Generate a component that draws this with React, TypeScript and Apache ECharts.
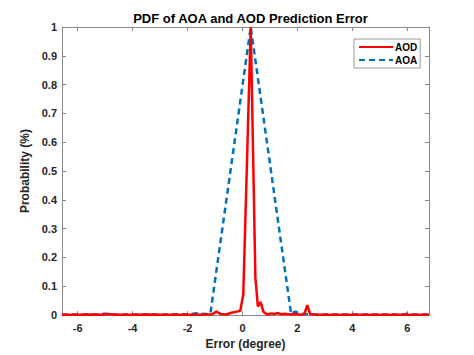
import React, { useEffect, useRef } from "react";
import * as echarts from "echarts";

const titleText = "PDF of AOA and AOD Prediction Error";
const xName = "Error (degree)";
const yName = "Probability (%)";
const xTicks = [-6, -4, -2, 0, 2, 4, 6];
const xMin = -6.57;
const xMax = 6.79;

const aodX = [-6.57, -6.0, -5.5, -5.1, -4.9, -4.6, -4.0, -3.5, -3.0, -2.5, -2.0, -1.5, -1.1, -0.95, -0.8, -0.6, -0.4, -0.2, -0.08, 0.03, 0.3, 0.47, 0.56, 0.66, 0.76, 0.9, 1.05, 1.15, 1.3, 1.4, 1.55, 1.7, 1.9, 2.1, 2.25, 2.36, 2.46, 2.6, 3.0, 4.0, 5.0, 6.0, 6.79];
const aodY = [0.001, 0.001, 0.002, 0.001, 0.004, 0.001, 0.001, 0.002, 0.001, 0.001, 0.001, 0.002, 0.003, 0.012, 0.004, 0.002, 0.008, 0.012, 0.015, 0.072, 1.0, 0.13, 0.03, 0.045, 0.012, 0.002, 0.006, 0.004, 0.007, 0.003, 0.005, 0.002, 0.004, 0.001, 0.003, 0.035, 0.004, 0.002, 0.001, 0.001, 0.001, 0.001, 0.001];

const aoaX = [-6.57, -5.3, -5.0, -4.7, -3.0, -1.9, -1.62, -1.4, -1.17, 0.3, 1.77, 1.92, 2.1, 2.5, 5.8, 6.0, 6.2, 6.79];
const aoaY = [0.002, 0.002, 0.005, 0.002, 0.002, 0.003, 0.007, 0.004, 0.004, 1.0, 0.004, 0.012, 0.005, 0.002, 0.002, 0.005, 0.002, 0.002];

const font = "'Liberation Sans', Arial, Helvetica, sans-serif";
const axisGray = "#8a8a8a";
const textDark = "#262626";

export default function App() {
  const ref = useRef<HTMLDivElement>(null);
  useEffect(() => {
    if (!ref.current) return;
    const chart = echarts.init(ref.current, null, { renderer: "svg" });
    const aodData = aodX.map((x, i) => [x, aodY[i]]);
    const aoaData = aoaX.map((x, i) => [x, aoaY[i]]);
    chart.setOption({
      animation: false,
      backgroundColor: "#fff",
      textStyle: { fontFamily: font },
      title: {
        text: titleText,
        left: 245.5,
        textAlign: "center",
        top: 7,
        textStyle: { fontFamily: font, fontSize: 13, fontWeight: "bold", color: "#000" },
      },
      grid: { left: 62, top: 27, right: 45, bottom: 39 },
      legend: {
        left: 354,
        top: 39,
        orient: "vertical",
        backgroundColor: "#fff",
        borderColor: "#999",
        borderWidth: 1,
        borderRadius: 0,
        padding: [3, 3, 3, 4],
        itemGap: 3,
        itemWidth: 34,
        itemHeight: 8,
        itemStyle: { opacity: 0 },
        textStyle: { fontFamily: font, fontSize: 10, fontWeight: "bold", color: "#000", padding: [0, 0, 0, -3] },
        data: ["AOD", "AOA"],
      },
      xAxis: [
        {
          type: "value",
          min: xMin,
          max: xMax,
          name: xName,
          nameLocation: "middle",
          nameGap: 22,
          nameTextStyle: { fontFamily: font, fontSize: 12, fontWeight: "bold", color: textDark },
          axisLine: { show: true, onZero: false, lineStyle: { color: axisGray, width: 1 } },
          axisTick: { show: true, inside: true, length: 4, customValues: xTicks, lineStyle: { color: axisGray } },
          axisLabel: {
            show: true,
            margin: 7,
            customValues: xTicks,
            fontFamily: font,
            fontSize: 11,
            fontWeight: "bold",
            color: textDark,
          },
          splitLine: { show: false },
        },
        {
          type: "value",
          position: "top",
          min: xMin,
          max: xMax,
          axisLine: { show: true, onZero: false, lineStyle: { color: axisGray, width: 1 } },
          axisTick: { show: true, inside: true, length: 4, customValues: xTicks, lineStyle: { color: axisGray } },
          axisLabel: { show: false },
          splitLine: { show: false },
        },
      ],
      yAxis: [
        {
          type: "value",
          min: 0,
          max: 1,
          interval: 0.1,
          name: yName,
          nameLocation: "middle",
          nameGap: 25,
          nameTextStyle: { fontFamily: font, fontSize: 12, fontWeight: "bold", color: textDark },
          axisLine: { show: true, onZero: false, lineStyle: { color: axisGray, width: 1 } },
          axisTick: { show: true, inside: true, length: 4, lineStyle: { color: axisGray } },
          axisLabel: {
            margin: 5,
            fontFamily: font,
            fontSize: 11,
            fontWeight: "bold",
            color: textDark,
            formatter: (v: number) => String(Math.round(v * 10) / 10),
          },
          splitLine: { show: false },
        },
        {
          type: "value",
          position: "right",
          min: 0,
          max: 1,
          interval: 0.1,
          axisLine: { show: true, onZero: false, lineStyle: { color: axisGray, width: 1 } },
          axisTick: { show: true, inside: true, length: 4, lineStyle: { color: axisGray } },
          axisLabel: { show: false },
          splitLine: { show: false },
        },
      ],
      series: [
        {
          name: "AOD",
          type: "line",
          data: aodData,
          showSymbol: false,
          symbol: "none",
          z: 3,
          lineStyle: { color: "#ff0000", width: 2.5 },
          itemStyle: { color: "#ff0000" },
        },
        {
          name: "AOA",
          type: "line",
          data: aoaData,
          showSymbol: false,
          symbol: "none",
          z: 2,
          lineStyle: { color: "#0072bd", width: 2.5, type: [6, 4] },
          itemStyle: { color: "#0072bd" },
        },
      ],
    });
    return () => chart.dispose();
  }, []);
  return (
    <div
      ref={ref}
      style={{ position: "fixed", left: 0, top: 0, width: 474, height: 355 }}
    />
  );
}
